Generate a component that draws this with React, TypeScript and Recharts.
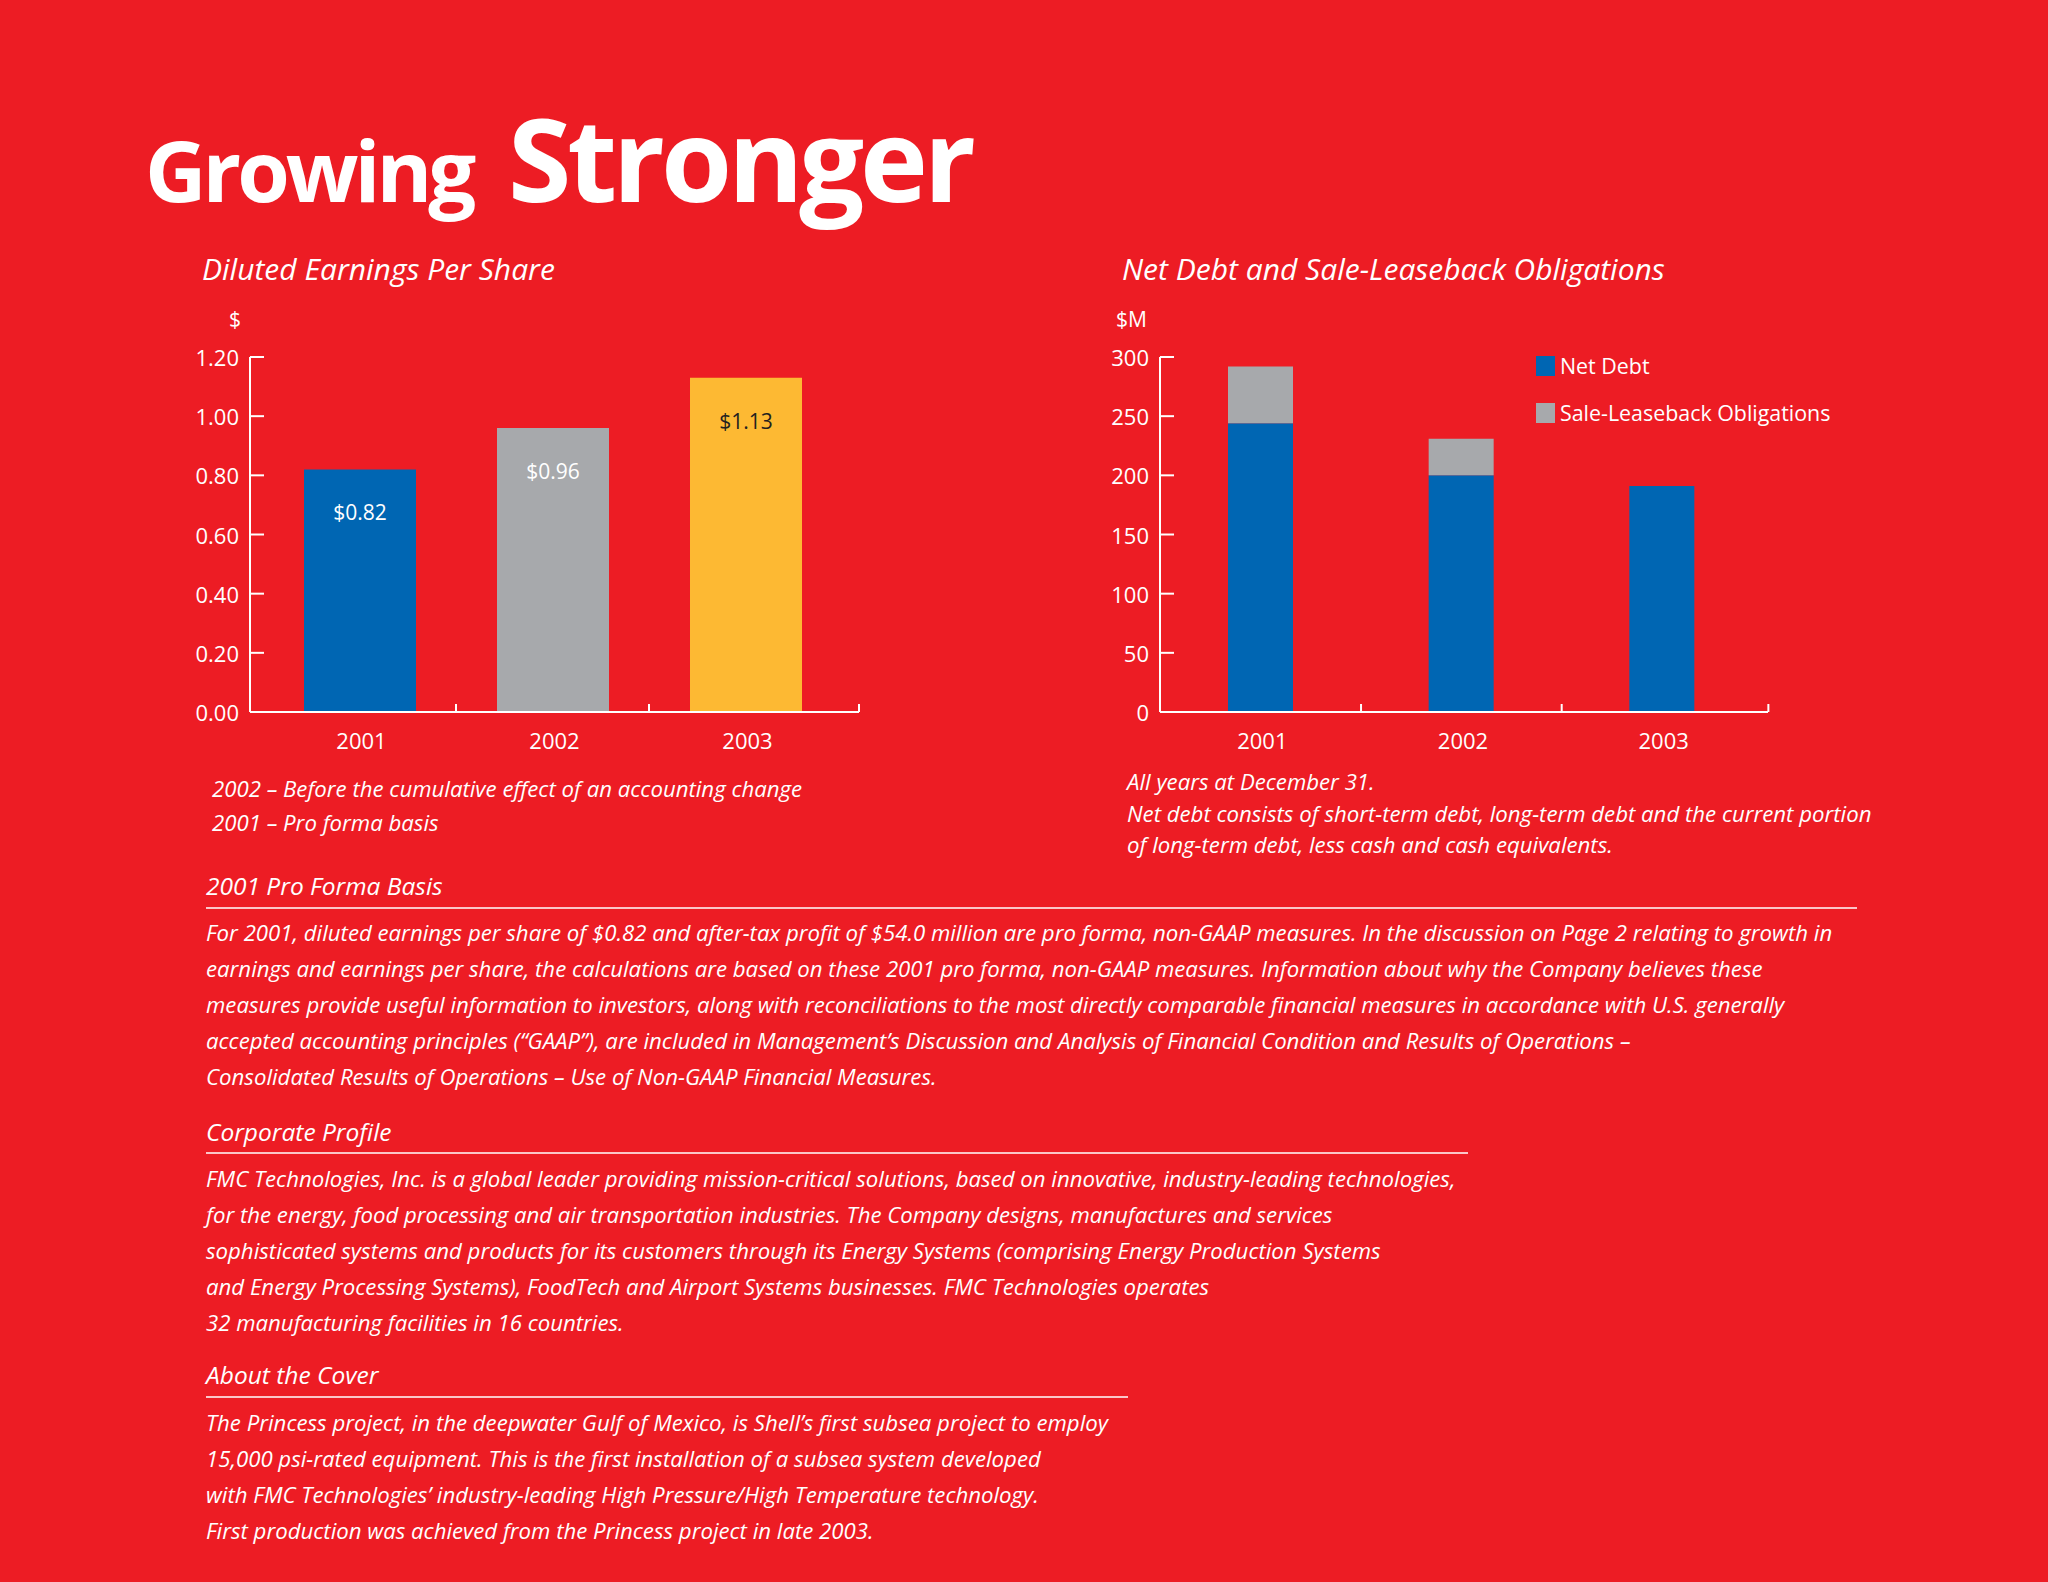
import React from 'react';
import { BarChart, Bar, XAxis, YAxis, Cell, LabelList, Legend } from 'recharts';

// ---------- data ----------
const years = ['2001', '2002', '2003'];
const epsValues = [0.82, 0.96, 1.13];
const epsTicks = [0, 0.2, 0.4, 0.6, 0.8, 1.0, 1.2];
const netDebt = [244, 200, 191];
const saleLeaseback = [48, 31, 0];
const debtTicks = [0, 50, 100, 150, 200, 250, 300];
const debtSeries = [
  { key: 'netDebt', name: 'Net Debt' },
  { key: 'saleLeaseback', name: 'Sale-Leaseback Obligations' },
];

const epsData = years.map((year, i) => ({ year, eps: epsValues[i] }));
const debtData = years.map((year, i) => ({ year, netDebt: netDebt[i], saleLeaseback: saleLeaseback[i] }));

// ---------- text ----------
const epsNotes = ['2002 – Before the cumulative effect of an accounting change', '2001 – Pro forma basis'];
const debtNotes = ['Net debt consists of short-term debt, long-term debt and the current portion', 'of long-term debt, less cash and cash equivalents.'];
const proFormaLines = [
  'For 2001, diluted earnings per share of $0.82 and after-tax profit of $54.0 million are pro forma, non-GAAP measures. In the discussion on Page 2 relating to growth in',
  'earnings and earnings per share, the calculations are based on these 2001 pro forma, non-GAAP measures. Information about why the Company believes these',
  'measures provide useful information to investors, along with reconciliations to the most directly comparable financial measures in accordance with U.S. generally',
  'accepted accounting principles (“GAAP”), are included in Management’s Discussion and Analysis of Financial Condition and Results of Operations –',
  'Consolidated Results of Operations – Use of Non-GAAP Financial Measures.',
];
const profileLines = [
  'FMC Technologies, Inc. is a global leader providing mission-critical solutions, based on innovative, industry-leading technologies,',
  'for the energy, food processing and air transportation industries. The Company designs, manufactures and services',
  'sophisticated systems and products for its customers through its Energy Systems (comprising Energy Production Systems',
  'and Energy Processing Systems), FoodTech and Airport Systems businesses. FMC Technologies operates',
  '32 manufacturing facilities in 16 countries.',
];
const coverLines = [
  'The Princess project, in the deepwater Gulf of Mexico, is Shell’s first subsea project to employ',
  '15,000 psi-rated equipment. This is the first installation of a subsea system developed',
  'with FMC Technologies’ industry-leading High Pressure/High Temperature technology.',
  'First production was achieved from the Princess project in late 2003.',
];

// ---------- styles ----------
const RED = '#ED1C24';
const BLUE = '#0066B3';
const GRAY = '#A7A9AC';
const YELLOW = '#FDB933';
const WHITE = '#FFFFFF';
const RULE = 'rgba(255,255,255,0.75)';
const FONT = '"Open Sans", "Noto Sans", sans-serif';
const epsColors = [BLUE, GRAY, YELLOW];
const epsLabelColors = [WHITE, WHITE, '#231F20'];
const debtColors = [BLUE, GRAY];

const TICK_FONT = 22;
const BODY_FONT = 22.2;
const HEAD_FONT = 24.5;

type LineProps = { x: number; cy: number; size: number; italic?: boolean; bold?: boolean; lh?: number; children: React.ReactNode };
function Line({ x, cy, size, italic, bold, lh, children }: LineProps) {
  const L = lh ?? Math.round(size * 1.4);
  return (
    <div
      style={{
        position: 'absolute',
        left: x,
        top: cy - L / 2,
        height: L,
        lineHeight: `${L}px`,
        fontSize: size,
        fontStyle: italic ? 'italic' : 'normal',
        fontWeight: bold ? 700 : 400,
        whiteSpace: 'nowrap',
        color: WHITE,
      }}
    >
      {children}
    </div>
  );
}

function Rule({ x1, x2, y }: { x1: number; x2: number; y: number }) {
  return <div style={{ position: 'absolute', left: x1, top: y - 1, width: x2 - x1, height: 2, background: RULE }} />;
}

const makeYTick = (fmt: (v: number) => string) => (props: any) => {
  const { x, y, payload } = props;
  return (
    <g>
      <line x1={x} x2={x + 14} y1={y} y2={y} stroke={WHITE} strokeWidth={2} />
      <text x={x - 11} y={y} textAnchor="end" dominantBaseline="central" fill={WHITE} fontSize={TICK_FONT} fontFamily={FONT}>
        {fmt(payload.value)}
      </text>
    </g>
  );
};

const makeXTick = (halfBand: number, padRight: number, count: number) => (props: any) => {
  const { x, y, payload, index } = props;
  const tx = x + halfBand + (index === count - 1 ? padRight : 0);
  return (
    <g>
      <line x1={tx} x2={tx} y1={y} y2={y - 8} stroke={WHITE} strokeWidth={2} />
      <text x={x + 2} y={y + 28} textAnchor="middle" dominantBaseline="central" fill={WHITE} fontSize={TICK_FONT} fontFamily={FONT}>
        {payload.value}
      </text>
    </g>
  );
};

const EpsLabel = (props: any) => {
  const { x, y, width, value, index } = props;
  return (
    <text x={x + width / 2} y={y + 43} textAnchor="middle" dominantBaseline="central" fill={epsLabelColors[index]} fontSize={21} fontFamily={FONT}>
      {`$${Number(value).toFixed(2)}`}
    </text>
  );
};

const DebtLegend = () => (
  <div style={{ fontFamily: FONT }}>
    {debtSeries.map((s, i) => (
      <div key={s.key} style={{ position: 'relative', height: 47, whiteSpace: 'nowrap' }}>
        <span style={{ position: 'absolute', left: 0, top: 0, width: 19, height: 20, background: debtColors[i] }} />
        <span style={{ position: 'absolute', left: 24, top: -5, lineHeight: '30px', fontSize: 21.4, color: WHITE }}>{s.name}</span>
      </div>
    ))}
  </div>
);

const CHART_W = 730;
const CHART_H = 430;

function EpsChart() {
  return (
    <div style={{ position: 'absolute', left: 150, top: 330 }}>
      <BarChart width={CHART_W} height={CHART_H} data={epsData} margin={{ top: 27, right: 21, bottom: 0, left: 0 }}>
        <XAxis
          dataKey="year"
          height={48}
          padding={{ left: 13, right: 17 }}
          axisLine={{ stroke: WHITE, strokeWidth: 2 }}
          tickLine={false}
          tickSize={0}
          tickMargin={0}
          interval={0}
          tick={makeXTick(96.5, 17, years.length)}
        />
        <YAxis
          width={100}
          domain={[0, 1.2]}
          ticks={epsTicks}
          interval={0}
          axisLine={{ stroke: WHITE, strokeWidth: 2 }}
          tickLine={false}
          tickSize={0}
          tickMargin={0}
          tick={makeYTick((v) => v.toFixed(2))}
        />
        <Bar dataKey="eps" barSize={112} isAnimationActive={false}>
          {epsData.map((d, i) => (
            <Cell key={d.year} fill={epsColors[i]} />
          ))}
          <LabelList dataKey="eps" content={EpsLabel} />
        </Bar>
      </BarChart>
    </div>
  );
}

function DebtChart() {
  return (
    <div style={{ position: 'absolute', left: 1060, top: 330 }}>
      <BarChart width={CHART_W} height={CHART_H} data={debtData} margin={{ top: 27, right: 22, bottom: 0, left: 0 }}>
        <XAxis
          dataKey="year"
          height={48}
          padding={{ left: 0, right: 6 }}
          axisLine={{ stroke: WHITE, strokeWidth: 2 }}
          tickLine={false}
          tickSize={0}
          tickMargin={0}
          interval={0}
          tick={makeXTick(100.7, 6, years.length)}
        />
        <YAxis
          width={100}
          domain={[0, 300]}
          ticks={debtTicks}
          interval={0}
          axisLine={{ stroke: WHITE, strokeWidth: 2 }}
          tickLine={false}
          tickSize={0}
          tickMargin={0}
          tick={makeYTick((v) => String(v))}
        />
        <Legend
          layout="vertical"
          align="center"
          verticalAlign="middle"
          content={DebtLegend}
          wrapperStyle={{ position: 'absolute', left: 476, top: 26, width: 340, height: 100 }}
        />
        {debtSeries.map((s, i) => (
          <Bar key={s.key} dataKey={s.key} name={s.name} stackId="debt" fill={debtColors[i]} barSize={65} isAnimationActive={false} />
        ))}
      </BarChart>
    </div>
  );
}

export default function App() {
  return (
    <div
      style={{
        position: 'absolute',
        left: 0,
        top: 0,
        width: 2048,
        height: 1582,
        background: RED,
        overflow: 'hidden',
        fontFamily: FONT,
        color: WHITE,
      }}
    >
      {/* Title */}
      <div style={{ position: 'absolute', left: 145, top: 202 - 0.888 * 85, fontSize: 85, lineHeight: '85px', fontWeight: 700, letterSpacing: -4, whiteSpace: 'nowrap' }}>
        Growing
      </div>
      <div style={{ position: 'absolute', left: 508, top: 202 - 0.888 * 115, fontSize: 115, lineHeight: '115px', fontWeight: 700, letterSpacing: -4.2, whiteSpace: 'nowrap' }}>
        Stronger
      </div>

      {/* Chart titles */}
      <Line x={202} cy={269} size={30} italic>Diluted Earnings Per Share</Line>
      <Line x={1122} cy={269} size={30} italic>Net Debt and Sale-Leaseback Obligations</Line>
      <Line x={229} cy={319} size={21}>$</Line>
      <Line x={1116} cy={319} size={21}>$M</Line>

      <EpsChart />
      <DebtChart />

      {/* Notes */}
      {epsNotes.map((t, i) => (
        <Line key={t} x={212} cy={788 + i * 34} size={BODY_FONT} italic>{t}</Line>
      ))}
      <Line x={1127} cy={782} size={BODY_FONT} italic lh={30}>All years at December 31.</Line>
      {debtNotes.map((t, i) => (
        <Line key={t} x={1127} cy={814 + i * 30.5} size={BODY_FONT} italic lh={30}>{t}</Line>
      ))}

      {/* 2001 Pro Forma Basis */}
      <Line x={206} cy={886} size={HEAD_FONT} italic>2001 Pro Forma Basis</Line>
      <Rule x1={206} x2={1857} y={908} />
      {proFormaLines.map((t, i) => (
        <Line key={i} x={206} cy={932 + i * 36} size={BODY_FONT} italic>{t}</Line>
      ))}

      {/* Corporate Profile */}
      <Line x={206} cy={1132} size={HEAD_FONT} italic>Corporate Profile</Line>
      <Rule x1={206} x2={1468} y={1153} />
      {profileLines.map((t, i) => (
        <Line key={i} x={206} cy={1178 + i * 36.2} size={BODY_FONT} italic>{t}</Line>
      ))}

      {/* About the Cover */}
      <Line x={206} cy={1375} size={HEAD_FONT} italic>About the Cover</Line>
      <Rule x1={206} x2={1128} y={1397} />
      {coverLines.map((t, i) => (
        <Line key={i} x={206} cy={1422 + i * 36.3} size={BODY_FONT} italic>{t}</Line>
      ))}
    </div>
  );
}
